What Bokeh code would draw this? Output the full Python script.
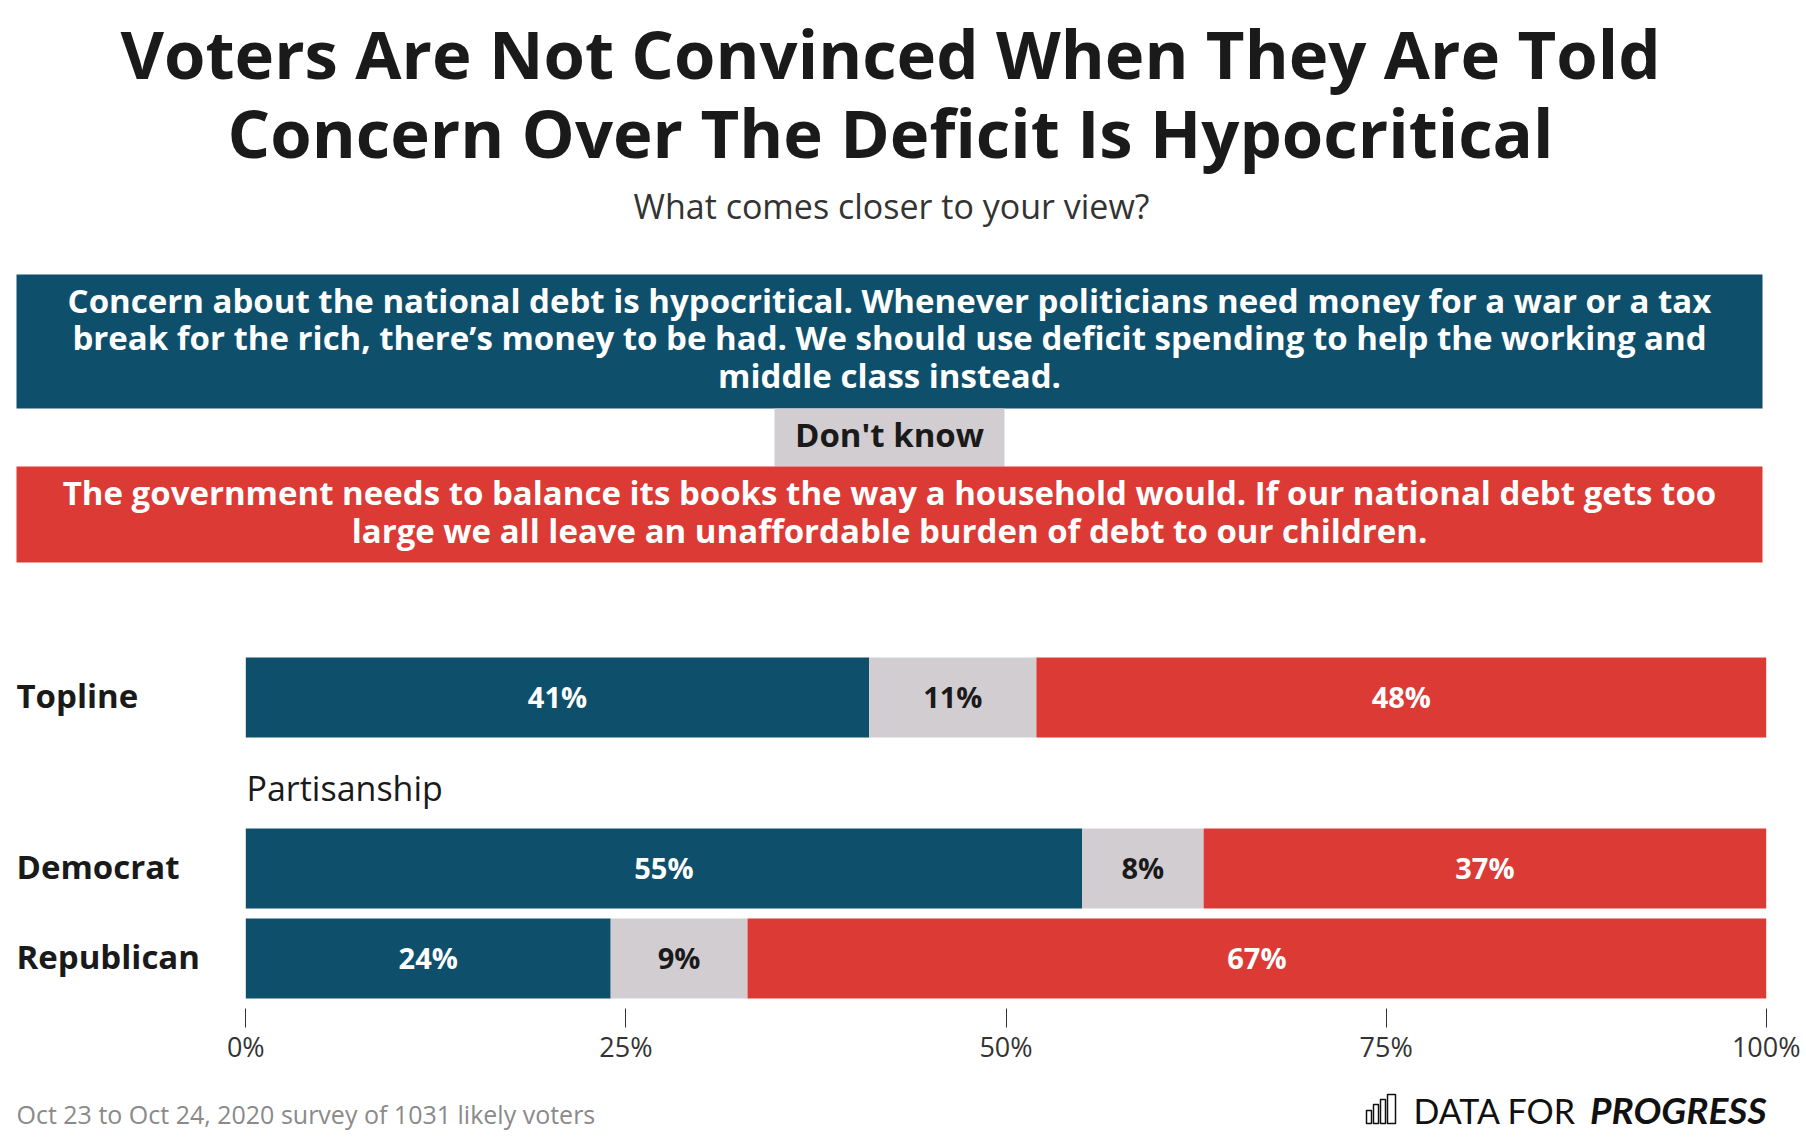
import numpy as np
from bokeh.plotting import figure
from bokeh.models import Range1d, Label, FixedTicker, PrintfTickFormatter, ColumnDataSource
from bokeh.layouts import column
from bokeh.core.properties import value
from bokeh.embed import file_html
from bokeh.resources import INLINE

# ---------------- data ----------------
categories = ["Topline", "Democrat", "Republican"]
hypocritical = [41, 55, 24]      # "Concern ... is hypocritical"
dont_know = [11, 8, 9]
balance_books = [48, 37, 67]     # "The government needs to balance its books"
tick_values = [0, 25, 50, 75, 100]

title_lines = ["Voters Are Not Convinced When They Are Told",
               "Concern Over The Deficit Is Hypocritical"]
subtitle = "What comes closer to your view?"
blue_text = ["Concern about the national debt is hypocritical. Whenever politicians need money for a war or a tax",
             "break for the rich, there\u2019s money to be had. We should use deficit spending to help the working and",
             "middle class instead."]
dk_text = "Don't know"
red_text = ["The government needs to balance its books the way a household would. If our national debt gets too",
            "large we all leave an unaffordable burden of debt to our children."]
group_label = "Partisanship"
footer = "Oct 23 to Oct 24, 2020 survey of 1031 likely voters"

# ---------------- style ----------------
BLUE = "#0e4f6c"
GRAY = "#d1cdd1"
RED = "#dc3a35"
DARK = "#1a1a1a"
FONT = "Open Sans"
K = 0.38  # baseline correction factor (fraction of font size)


def bl(baseline, size):
    return baseline - K * size


W, H = 1806, 1144
BAR_L, BAR_R = 245.3, 1765.7
ppu = (BAR_R - BAR_L) / 100.0
FRAME_B = 1008
FIG1_H = 1072

p = figure(width=W, height=FIG1_H,
           x_range=Range1d(-BAR_L / ppu, 100 + (W - BAR_R) / ppu),
           y_range=Range1d(FRAME_B, 0),
           output_backend="svg", toolbar_location=None,
           min_border_left=0, min_border_right=0, min_border_top=0,
           min_border_bottom=FIG1_H - FRAME_B,
           y_axis_location=None, x_axis_location="below")
p.extra_x_ranges = {"px": Range1d(0, W)}
p.grid.visible = False
p.outline_line_color = None
p.background_fill_color = "white"
p.border_fill_color = "white"

ax = p.xaxis[0]
ax.ticker = FixedTicker(ticks=tick_values)
ax.formatter = PrintfTickFormatter(format="%d%%")
ax.axis_line_color = None
ax.major_tick_in = 0
ax.major_tick_out = 19
ax.major_tick_line_color = "#333333"
ax.minor_tick_line_color = None
ax.major_label_standoff = 0
ax.major_label_text_font = FONT
ax.major_label_text_font_size = "27px"
ax.major_label_text_color = "#333333"

# ---------------- bars ----------------
row_y = np.array([697, 868, 958])
hyp = np.array(hypocritical)
dk = np.array(dont_know)
bal = np.array(balance_books)
src = ColumnDataSource(dict(
    y=row_y,
    h_l=np.zeros(3), h_r=hyp,
    d_l=hyp, d_r=hyp + dk,
    b_l=hyp + dk, b_r=hyp + dk + bal,
))
BAR_H = 80
p.hbar(y="y", left="h_l", right="h_r", height=BAR_H, fill_color=BLUE, line_color=None, source=src)
p.hbar(y="y", left="d_l", right="d_r", height=BAR_H, fill_color=GRAY, line_color=None, source=src)
p.hbar(y="y", left="b_l", right="b_r", height=BAR_H, fill_color=RED, line_color=None, source=src)

LBL = 29
ty = bl(row_y + 10, LBL)
for lefts, vals, col in [(np.zeros(3), hyp, "white"), (hyp, dk, DARK), (hyp + dk, bal, "white")]:
    p.text(x=lefts + vals / 2.0, y=ty, text=[f"{v}%" for v in vals],
           text_align="center", text_baseline="alphabetic",
           text_font=value(FONT), text_font_style="bold",
           text_font_size=f"{LBL}px", text_color=col)

# row labels
RL = 33
p.text(x=[16] * 3, y=bl(row_y + 11, RL), text=categories, x_range_name="px",
       text_align="left", text_baseline="alphabetic", text_font=value(FONT),
       text_font_style="bold", text_font_size=f"{RL}px", text_color=DARK)

p.add_layout(Label(x=246, y=bl(800, 34), x_range_name="px", text=group_label,
                   text_font=FONT, text_font_size="34px", text_color=DARK,
                   text_align="left", text_baseline="alphabetic"))

# ---------------- header ----------------
TS = 67
for txt, yb in zip(title_lines, [78, 157]):
    p.add_layout(Label(x=890, y=bl(yb, TS), x_range_name="px", text=txt, text_font=FONT,
                       text_font_style="bold", text_font_size=f"{TS}px", text_color=DARK,
                       text_align="center", text_baseline="alphabetic"))
p.add_layout(Label(x=891, y=bl(218, 34), x_range_name="px", text=subtitle, text_font=FONT,
                   text_font_size="34px", text_color="#333333",
                   text_align="center", text_baseline="alphabetic"))

# answer boxes
p.quad(left=[16], right=[1762], top=[274], bottom=[408], x_range_name="px",
       fill_color=BLUE, line_color=None)
p.quad(left=[774], right=[1004], top=[408], bottom=[466], x_range_name="px",
       fill_color=GRAY, line_color=None)
p.quad(left=[16], right=[1762], top=[466], bottom=[562], x_range_name="px",
       fill_color=RED, line_color=None)

BS = 33
for txt, yb in zip(blue_text, [313, 350, 388]):
    p.add_layout(Label(x=889, y=bl(yb, BS), x_range_name="px", text=txt, text_font=FONT,
                       text_font_style="bold", text_font_size=f"{BS}px", text_color="white",
                       text_align="center", text_baseline="alphabetic"))
p.add_layout(Label(x=889, y=bl(447, BS), x_range_name="px", text=dk_text, text_font=FONT,
                   text_font_style="bold", text_font_size=f"{BS}px", text_color=DARK,
                   text_align="center", text_baseline="alphabetic"))
for txt, yb in zip(red_text, [505, 543]):
    p.add_layout(Label(x=889, y=bl(yb, BS), x_range_name="px", text=txt, text_font=FONT,
                       text_font_style="bold", text_font_size=f"{BS}px", text_color="white",
                       text_align="center", text_baseline="alphabetic"))

# ---------------- footer ----------------
f = figure(width=W, height=H - FIG1_H, x_range=Range1d(0, W), y_range=Range1d(H, FIG1_H),
           output_backend="svg", toolbar_location=None,
           min_border_left=0, min_border_right=0, min_border_top=0, min_border_bottom=0,
           x_axis_location=None, y_axis_location=None)
f.grid.visible = False
f.outline_line_color = None
f.background_fill_color = "white"
f.border_fill_color = "white"

f.add_layout(Label(x=16, y=bl(1123, 25), text=footer, text_font=FONT, text_font_size="25px",
                   text_color="#8a8a8a", text_align="left", text_baseline="alphabetic"))
# logo icon (outlined bars)
f.quad(left=[1366, 1373, 1380, 1387], right=[1371, 1378, 1385, 1395],
       top=[1110, 1104, 1099, 1094], bottom=[1123] * 4,
       fill_color=None, line_color="#111111", line_width=1.5)
f.add_layout(Label(x=1413, y=bl(1123, 34), text="DATA FOR", text_font="Lato", text_font_size="34px",
                   text_color="#111111", text_align="left", text_baseline="alphabetic"))
f.add_layout(Label(x=1766, y=bl(1123, 37), text="PROGRESS", text_font="Lato", text_font_size="37px",
                   text_font_style="bold italic", text_color="#111111",
                   text_align="right", text_baseline="alphabetic"))

layout = column(p, f, spacing=0)
open("out.html", "w").write(file_html(layout, INLINE))
